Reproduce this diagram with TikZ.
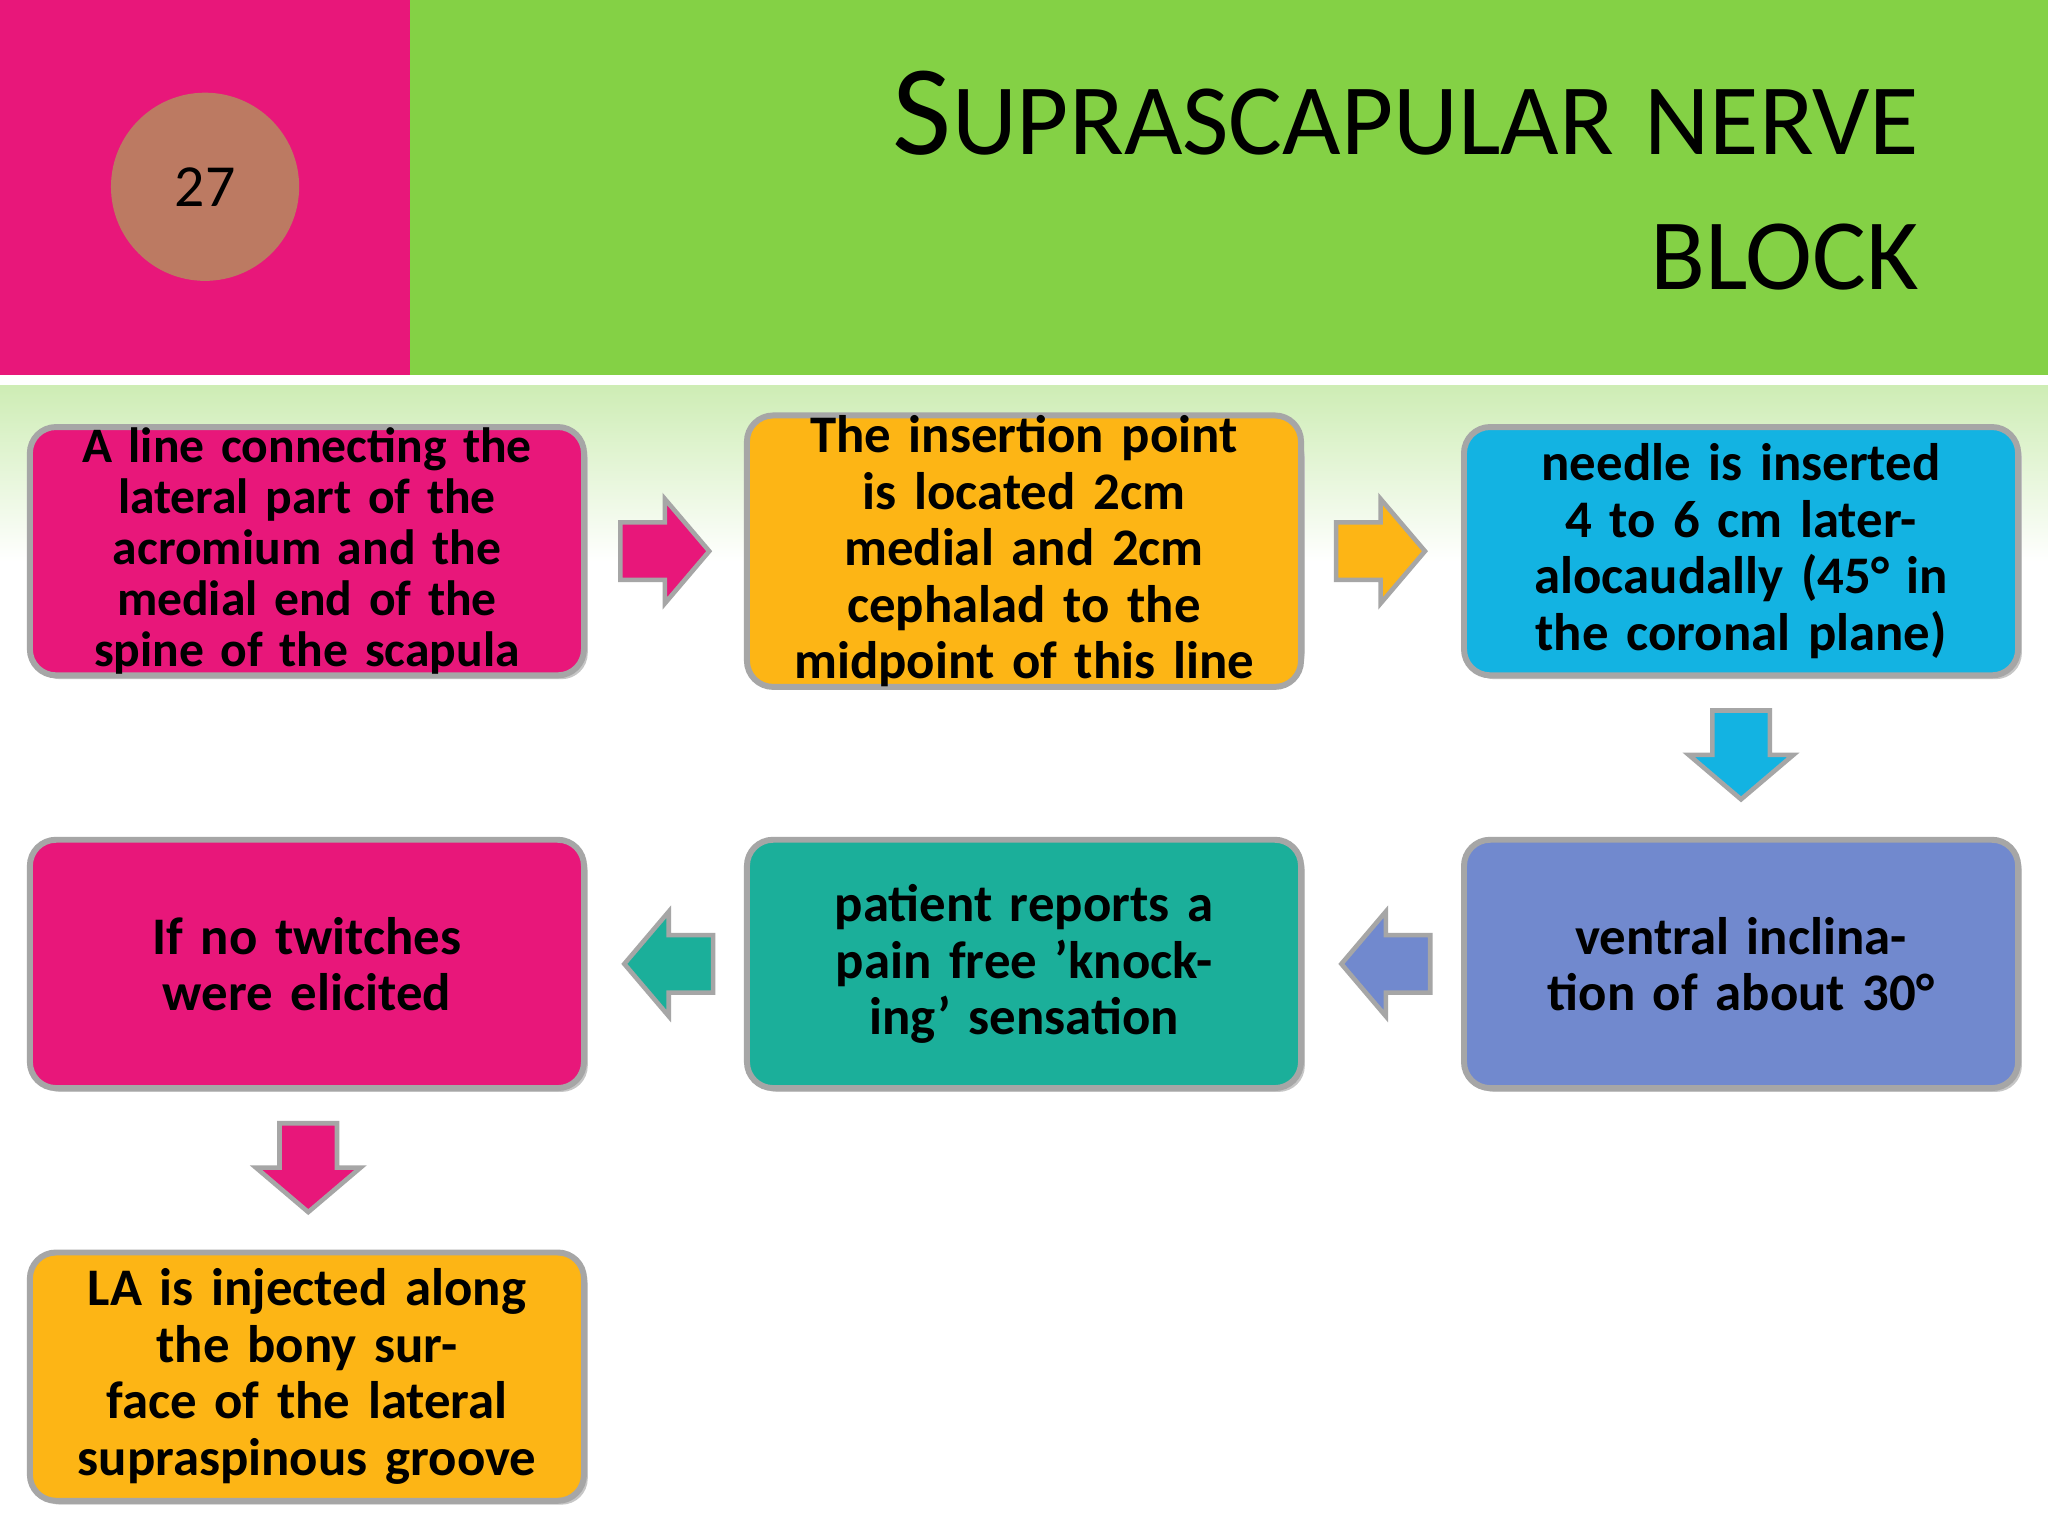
\documentclass[tikz,border=0pt]{standalone}
\usepackage{fontspec}
\setmainfont{Carlito}
\begin{document}
\begin{tikzpicture}[x=0.01cm,y=-0.01cm,
  box/.style={draw=gray!70,line width=1.3pt,rounded corners=0.2cm,minimum width=4.24cm,minimum height=1.9cm,align=center,text width=4.0cm,inner sep=0pt,font=\bfseries\fontsize{11.5}{12.3}\selectfont},
  shad/.style={fill=gray!45,rounded corners=0.2cm},
  arr/.style={draw=gray!70,line width=1pt,line join=miter},
  rarrow/.pic={\path[arr,pic actions](-34,-22)--(0,-22)--(0,-40)--(34,0)--(0,40)--(0,22)--(-34,22)--cycle;},
  larrow/.pic={\path[arr,pic actions](34,-22)--(0,-22)--(0,-40)--(-34,0)--(0,40)--(0,22)--(34,22)--cycle;},
  darrow/.pic={\path[arr,pic actions](-22,-34)--(-22,0)--(-40,0)--(0,34)--(40,0)--(22,0)--(22,-34)--cycle;}]
\definecolor{cpink}{HTML}{E8177A}
\definecolor{corange}{HTML}{FDB515}
\definecolor{cblue}{HTML}{13B3E2}
\definecolor{cpurple}{HTML}{7189CE}
\definecolor{cteal}{HTML}{1BAF9A}
\definecolor{cgreen}{HTML}{84D145}
\definecolor{ccirc}{HTML}{BC7A62}
\useasboundingbox (0,0) rectangle (1568,1176);
\fill[white] (0,0) rectangle (1568,1176);
\fill[cpink] (0,0) rectangle (314,287);
\fill[cgreen] (314,0) rectangle (1568,287);
\shade[top color=cgreen!40,bottom color=white] (0,295) rectangle (1568,430);
\node[circle,fill=ccirc,minimum size=1.44cm,inner sep=0] (circ) at (157,143) {};
\node[font=\fontsize{13}{13}\selectfont] (num) at (circ) {27};
\node[anchor=base east,inner sep=0] (t1) at (1470,118) {{\fontsize{28}{28}\selectfont S}{\fontsize{22}{22}\selectfont UPRASCAPULAR\hspace{0.3em}NERVE}};
\node[anchor=base east,inner sep=0] (t2) at (1470,222) {\fontsize{22}{22}\selectfont BLOCK};
\foreach \x/\y in {235/422,784/422,1333/422,1333/738,784/738,235/738,235/1054}
  \fill[shad] (\x-209,\y-92) rectangle (\x+215,\y+98);
\node[box,fill=cpink,font=\bfseries\fontsize{10.8}{11.1}\selectfont] (b1) at (235,422) {A line connecting the lateral part of the acromium and the medial end of the spine of the scapula};
\node[box,fill=corange] (b2) at (784,422) {The insertion point is located 2cm medial and 2cm cephalad to the midpoint of this line};
\node[box,fill=cblue] (b3) at (1333,422) {needle is inserted 4 to 6 cm lateralocaudally (45° in the coronal plane)};
\node[box,fill=cpurple] (b4) at (1333,738) {ventral inclination of about 30°};
\node[box,fill=cteal] (b5) at (784,738) {patient reports a pain free 'knocking' sensation};
\node[box,fill=cpink] (b6) at (235,738) {If no twitches were elicited};
\node[box,fill=corange] (b7) at (235,1054) {LA is injected along the bony surface of the lateral supraspinous groove};
\pic[fill=cpink] at (509,422) {rarrow};
\pic[fill=corange] at (1057,422) {rarrow};
\pic[fill=cblue] at (1333,578) {darrow};
\pic[fill=cpurple] at (1061,738) {larrow};
\pic[fill=cteal] at (512,738) {larrow};
\pic[fill=cpink] at (236,894) {darrow};
\end{tikzpicture}
\end{document}
